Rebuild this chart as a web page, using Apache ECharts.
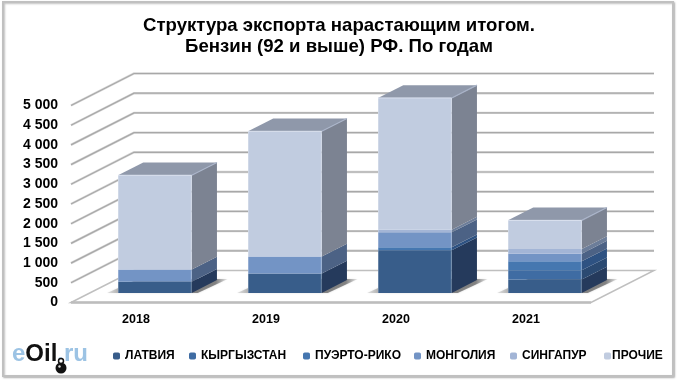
<!DOCTYPE html>
<html><head><meta charset="utf-8">
<style>html,body{margin:0;padding:0;background:#fff}#c{width:680px;height:384px}</style>
<script src="https://cdn.jsdelivr.net/npm/echarts@6/dist/echarts.min.js"></script>
</head><body><div id="c"></div>
<script>
const categories = ['2018','2019','2020','2021'];
const yTicks = [0,500,1000,1500,2000,2500,3000,3500,4000,4500,5000];
const latvia     = [280, 490, 1081, 337];
const kyrgyzstan = [0, 0, 0, 236];
const puertoRico = [0, 0, 76, 228];
const mongolia   = [312, 431, 380, 195];
const singapore  = [0, 0, 68, 119];
const others     = [2393, 3180, 3343, 726];
const seriesNames = ['ЛАТВИЯ','КЫРГЫЗСТАН','ПУЭРТО-РИКО','МОНГОЛИЯ','СИНГАПУР','ПРОЧИЕ'];
const seriesValues = [latvia, kyrgyzstan, puertoRico, mongolia, singapore, others];

const frontColors = ['#385d8a','#3f6ca3','#4577b0','#7394c5','#a3b5d6','#c1cce0'];
const sideColors  = ['#253a5c','#2b4a72','#2e5282','#4c6285','#6c7d99','#7c8392'];
const legendLeft  = [113,189,303,414,510,604];
const font = '"Liberation Sans", Arial, sans-serif';

// oblique projection of the depth axis
const DX = 63, DY = -32;          // full floor depth
const BAR_NEAR = 0.30, BAR_FAR = 0.70; // bar position within the depth
const BAR_FRAC = 0.567;

function shift(p, t){ return [p[0]+DX*t, p[1]+DY*t]; }

function wallItem(params, api){
  const v = api.value(0);
  const band = api.size([1,0])[0];
  const n = categories.length;
  const a = api.coord([0, v]); a[0] -= band/2;
  const b = shift(a,1);
  const c = [b[0]+band*n, b[1]];
  const children = [];
  if (v === 0){
    const f = [a[0]+band*n, a[1]];
    children.push({type:'polygon',shape:{points:[a,b,c,f]},style:{fill:'#ffffff',stroke:'#bfbfbf',lineWidth:1.5}});
    children.push({type:'line',shape:{x1:a[0],y1:a[1],x2:f[0],y2:f[1]},style:{stroke:'#bdbdbd',lineWidth:2.5}});
  } else {
    children.push({type:'polyline',shape:{points:[a,b,c]},style:{fill:null,stroke:'#d6d6d6',lineWidth:2.4}});
    children.push({type:'polyline',shape:{points:[a,b,c]},style:{fill:null,stroke:'#a8a8a8',lineWidth:1.2}});
  }
  return {type:'group',children};
}

function shadowItem(params, api){
  const idx = api.value(0);
  const band = api.size([1,0])[0];
  const w = band*BAR_FRAC;
  const o = api.coord([idx,0]);
  const p = shift(o,BAR_NEAR);
  const x0 = p[0]-w/2, x1 = p[0]+w/2, y = p[1];
  return {type:'polygon',shape:{points:[[x0-11,y],[x1+6,y],[x1+36,y-14],[x0+20,y-14]]},
    style:{fill:{type:'linear',x:0,y:0,x2:1,y2:0,colorStops:[{offset:0,color:'rgba(90,90,90,0.15)'},{offset:0.2,color:'rgba(70,70,70,0.6)'},{offset:0.9,color:'rgba(70,70,70,0.6)'},{offset:1,color:'rgba(90,90,90,0.1)'}]},
      shadowBlur:2,shadowColor:'rgba(90,90,90,0.4)'}};
}

function barItem(si){
  return function(params, api){
    const idx = api.value(0), lo = api.value(1), hi = api.value(2);
    if (hi <= lo) return {type:'group',children:[]};
    const band = api.size([1,0])[0];
    const w = band*BAR_FRAC;
    const pLo = shift(api.coord([idx,lo]),BAR_NEAR);
    const pHi = shift(api.coord([idx,hi]),BAR_NEAR);
    const x0 = pLo[0]-w/2, x1 = pLo[0]+w/2;
    const d = BAR_FAR-BAR_NEAR, ox = DX*d, oy = DY*d;
    const kids = [];
    kids.push({type:'polygon',shape:{points:[[x1,pLo[1]],[x1+ox,pLo[1]+oy],[x1+ox,pHi[1]+oy],[x1,pHi[1]]]},
      style:{fill:sideColors[si]}});
    kids.push({type:'rect',shape:{x:x0,y:pHi[1],width:w,height:pLo[1]-pHi[1]},style:{fill:frontColors[si]}});
    if (si === seriesNames.length-1){
      kids.push({type:'polygon',shape:{points:[[x0,pHi[1]],[x1,pHi[1]],[x1+ox,pHi[1]+oy],[x0+ox,pHi[1]+oy]]},
        style:{fill:'#8f98aa'}});
      kids.push({type:'line',shape:{x1:x0,y1:pHi[1],x2:x1,y2:pHi[1]},style:{stroke:'#dbe2f0',lineWidth:1}});
      kids.push({type:'line',shape:{x1:x1,y1:pHi[1],x2:x1+ox,y2:pHi[1]+oy},style:{stroke:'#a9b3c8',lineWidth:1.2}});
    }
    // soft bevel on the vertical edges
    const bev = 'rgba(255,255,255,0.22)';
    kids.push({type:'line',shape:{x1:x0+0.5,y1:pHi[1],x2:x0+0.5,y2:pLo[1]},style:{stroke:bev,lineWidth:1}});
    kids.push({type:'line',shape:{x1:x1-0.5,y1:pHi[1],x2:x1-0.5,y2:pLo[1]},style:{stroke:bev,lineWidth:1}});
    return {type:'group',children:kids};
  };
}

const cumulative = categories.map(()=>0);
const barSeries = seriesNames.map((name,si)=>{
  const data = categories.map((c,i)=>{
    const lo = cumulative[i]; const hi = lo+seriesValues[si][i];
    cumulative[i] = hi; return [i,lo,hi];
  });
  return {type:'custom',name,renderItem:barItem(si),data,clip:false,z:5,
    encode:{x:0,y:[1,2]},itemStyle:{color:frontColors[si]}};
});

const chart = echarts.init(document.getElementById('c'),null,{renderer:'canvas'});
chart.setOption({
  animation:false,
  backgroundColor:'#fff',
  title:{text:'Структура экспорта нарастающим итогом.\nБензин (92 и выше) РФ. По годам',left:334,top:10,textAlign:'center',
    textStyle:{fontFamily:font,fontSize:18.6,fontWeight:'bold',color:'#000',lineHeight:21}},
  grid:{left:71,right:89,top:105.5,bottom:81.5,containLabel:false},
  xAxis:{type:'category',data:categories,axisLine:{show:false},axisTick:{show:false},
    axisLabel:{color:'#000',fontFamily:font,fontWeight:'bold',fontSize:12.5,margin:11}},
  yAxis:{type:'value',min:0,max:5000,interval:500,axisLine:{show:false},axisTick:{show:false},splitLine:{show:false},
    axisLabel:{color:'#000',fontFamily:font,fontWeight:'bold',fontSize:14,margin:13,
      formatter:v=>String(v).replace(/\B(?=(\d{3})+$)/g,' ')}},
  legend:seriesNames.map((n,i)=>({data:[n],left:legendLeft[i],top:350,icon:'roundRect',itemWidth:7,itemHeight:7,itemGap:0,padding:0,
    selectedMode:false,textStyle:{color:'#000',fontFamily:font,fontWeight:'bold',fontSize:12,padding:[0,0,0,i===5?-4:0]}})),
  series:[
    {type:'custom',name:'_walls',renderItem:wallItem,data:yTicks.map(v=>[v]),encode:{y:0},clip:false,z:1,silent:true},
    {type:'custom',name:'_shadows',renderItem:shadowItem,data:categories.map((c,i)=>[i]),encode:{x:0},clip:false,z:2,silent:true},
    ...barSeries
  ],
  graphic:[
    {type:'rect',z:0,silent:true,shape:{x:3,y:2,width:670,height:374},style:{fill:'#fff',stroke:'#c0c0c0',lineWidth:2,shadowBlur:2,shadowColor:'rgba(0,0,0,0.25)',shadowOffsetX:1,shadowOffsetY:1}},
    {type:'text',z:10,left:12,top:342,silent:true,style:{text:'{a|e}{b|Oil}{c|.ru}',rich:{
      a:{fontFamily:font,fontSize:24,fill:'#9cc3e4',fontWeight:'bold'},
      b:{fontFamily:font,fontSize:24,fill:'#111',fontWeight:'bold'},
      c:{fontFamily:font,fontSize:24,fill:'#9cc3e4',fontWeight:'bold'}}}},
    {type:'circle',z:11,silent:true,shape:{cx:61,cy:368,r:5.5},style:{fill:'#111'}},
    {type:'circle',z:11,silent:true,shape:{cx:61,cy:361,r:2.5},style:{fill:'#fff',stroke:'#111',lineWidth:1.5}},
    {type:'circle',z:12,silent:true,shape:{cx:59.5,cy:366.5,r:1.2},style:{fill:'#ddd'}}
  ]
});
</script></body></html>
